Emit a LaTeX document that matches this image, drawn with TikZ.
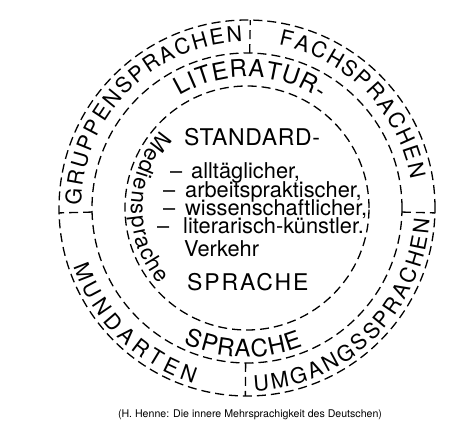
\documentclass[tikz,border=0pt]{standalone}
\usepackage{fontspec}
\setmainfont{TeX Gyre Heros}
\usetikzlibrary{decorations.text}

\newcommand\ringfont{\fontsize{21.5}{25}\selectfont}
\newcommand\midfont{\fontsize{24}{28}\selectfont}
\newcommand\medfont{\fontsize{22}{26}\selectfont}
\newcommand\listfont{\fontsize{21.8}{25}\selectfont}
\newcommand\bigfont{\fontsize{23}{27}\selectfont}

% text on an arc: start angle, end angle, radius, text
\newcommand\arctext[4]{%
  \path[decorate, decoration={text along path, text align={fit to path},
    text={#4}}] (#1:#3) arc[start angle=#1, end angle=#2, radius=#3];}

\tikzset{
  ring/.style={line width=1.3pt, dash pattern=on 9pt off 5pt},
  inner/.style={inner sep=0pt, anchor=base west, font=\listfont},
}

\begin{document}
\begin{tikzpicture}[x=1pt, y=1pt]
    \useasboundingbox[fill=white] (-247,-221) rectangle (227,208);

    % Rings
    \draw[ring] (0,0) circle[radius=188];
    \draw[ring] (0,0) circle[radius=155];
    \draw[ring] (0,0) circle[radius=122];

    % Dividers of the outer ring
    \draw[ring] (89:155) -- (89:188);
    \draw[ring] (269.5:155) -- (269.5:188);
    \draw[ring] (181.5:155) -- (181.5:188);
    \draw[ring] (-1.5:155) -- (-1.5:188);

    % Outer ring
    \arctext{179}{91.5}{166}{|\ringfont|GRUPPENSPRACHEN}
    \arctext{79}{10}{166}{|\ringfont|FACHSPRACHEN}
    \arctext{-87.8}{-3.5}{183}{|\ringfont|UMGANGSSPRACHEN}
    \arctext{198.5}{253}{183}{|\ringfont|MUNDARTEN}

    % Middle ring
    \arctext{121}{56}{131}{|\midfont|LITERATUR-}
    \arctext{245}{292}{149}{|\midfont|SPRACHE}

    % Inner circle
    \arctext{138}{221}{116}{|\medfont|Mediensprache}

    \node[inner, font=\bigfont\addfontfeatures{LetterSpace=3}] (std) at (-63,63) {STANDARD-};
    \node[inner] (d1) at (-77,30) {–};
    \node[inner] (l1) at (-56,30) {alltäglicher,};
    \node[inner] (d2) at (-84,11) {–};
    \node[inner] (l2) at (-62,11) {arbeitspraktischer,};
    \node[inner] (d3) at (-84,-7) {–};
    \node[inner] (l3) at (-62,-7) {wissenschaftlicher,};
    \node[inner] (d4) at (-90,-25) {–};
    \node[inner] (l4) at (-64,-25) {literarisch-künstler.};
    \node[inner] (l5) at (-63,-48) {Verkehr};
    \node[inner, font=\bigfont\addfontfeatures{LetterSpace=8}] (spr) at (-60,-82) {SPRACHE};

    % Source
    \node[inner sep=0pt, anchor=base, font=\fontsize{10.6}{12}\selectfont] (src) at (3,-209)
        {(H. Henne: Die innere Mehrsprachigkeit des Deutschen)};
\end{tikzpicture}
\end{document}
